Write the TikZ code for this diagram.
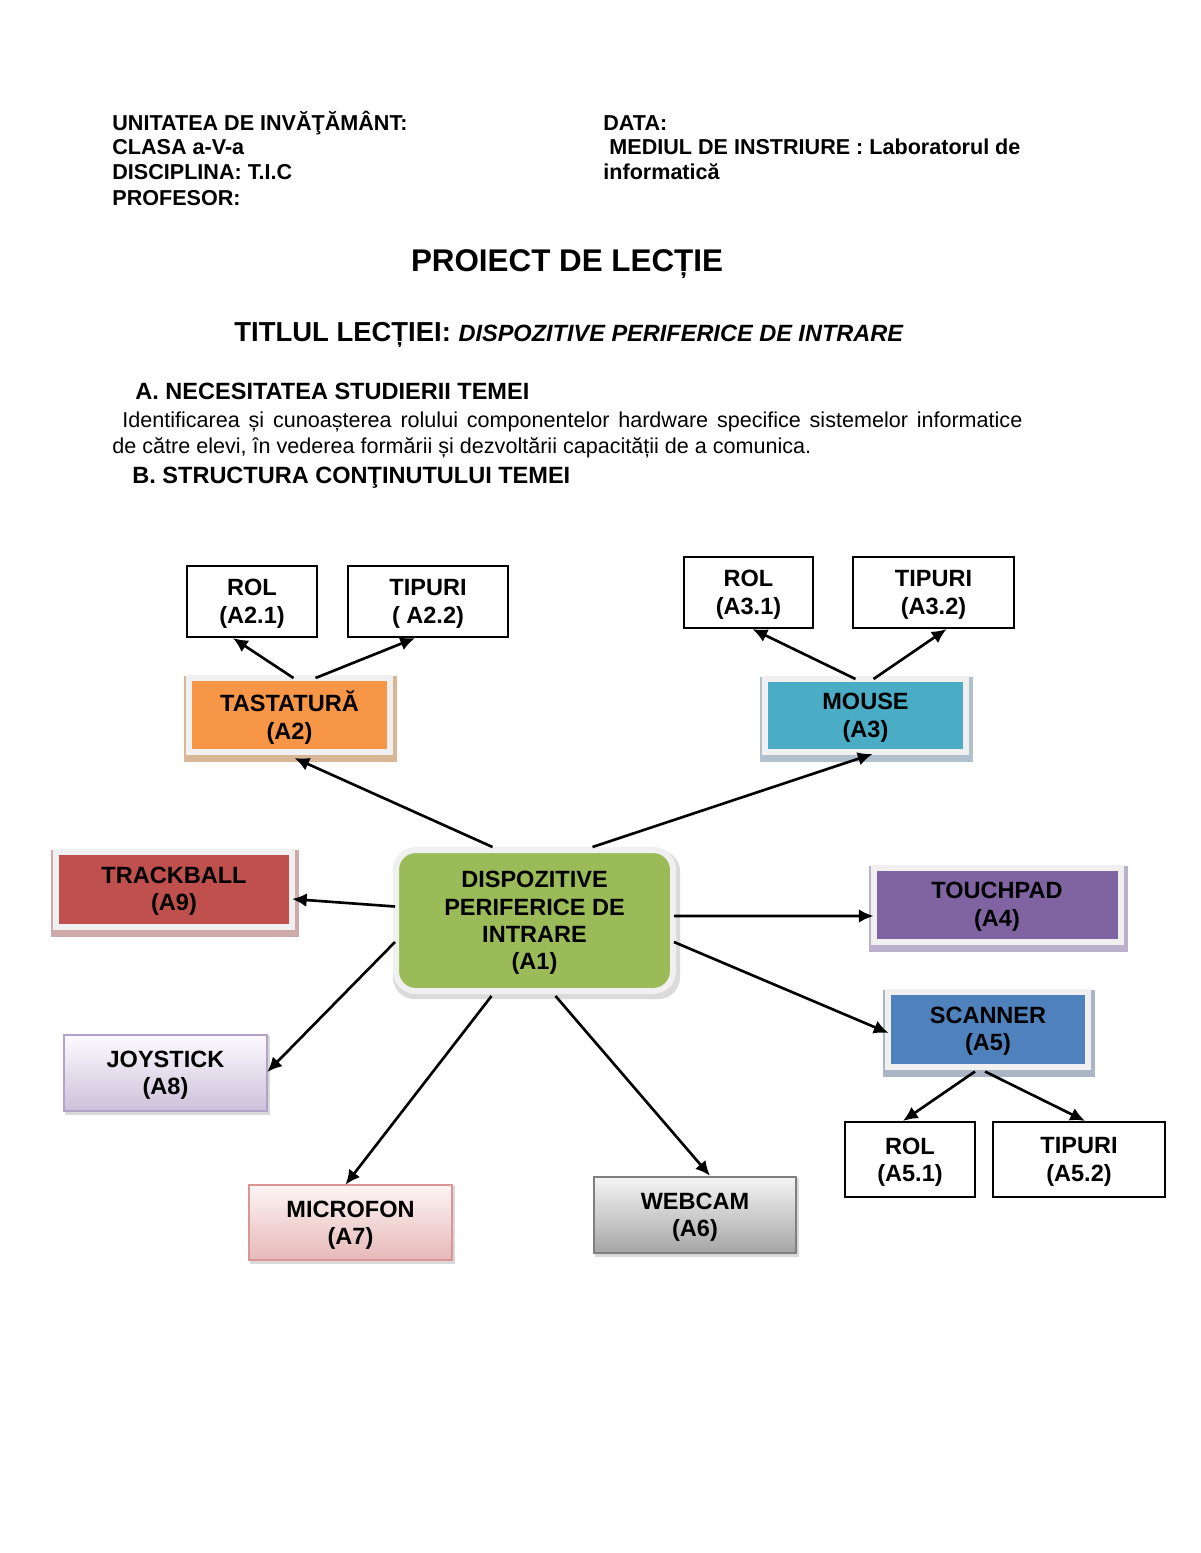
\documentclass[tikz,border=0pt]{standalone}
\usepackage{fontspec}
\setmainfont{Liberation Sans}
\usetikzlibrary{calc,arrows.meta,backgrounds}
\definecolor{frm}{HTML}{F0F0F0}
\definecolor{corange}{HTML}{F79646}
\definecolor{caqua}{HTML}{4BACC6}
\definecolor{cgreen}{HTML}{9BBB59}
\definecolor{cred}{HTML}{C0504D}
\definecolor{cpurple}{HTML}{8064A2}
\definecolor{cscan}{HTML}{4F81BD}
\definecolor{shorange}{HTML}{D8B696}
\definecolor{shaqua}{HTML}{B0C0CC}
\definecolor{shred}{HTML}{CFAAAA}
\definecolor{shpurple}{HTML}{BAB0CC}
\definecolor{shscan}{HTML}{AAB5C5}
\definecolor{shgreen}{HTML}{DADADA}
\definecolor{jtop}{HTML}{FCFAFE}
\definecolor{jbot}{HTML}{CCC1DA}
\definecolor{jbrd}{HTML}{B3A2C7}
\definecolor{mtop}{HTML}{FDF4F4}
\definecolor{mbot}{HTML}{E6B9B8}
\definecolor{mbrd}{HTML}{D99694}
\definecolor{wtop}{HTML}{F4F4F4}
\definecolor{wbot}{HTML}{A6A6A6}
\definecolor{wbrd}{HTML}{7F7F7F}
\newcommand\boxshadow[4]{\fill[#2] ($(#1.south west)+(-3+#3,3+#4)$) rectangle ($(#1.north east)+(3+#3,-3+#4)$);}
\begin{document}
\begin{tikzpicture}[x=0.51pt,y=-0.51pt,
  sz/.style 2 args={minimum width=#1*0.51pt, minimum height=#2*0.51pt},
  lbl/.style={font=\bfseries\fontsize{12}{14}\selectfont, align=center, inner sep=0pt, text=black, text depth=0pt},
  cbox/.style={lbl, draw=frm, line width=3.06pt},
  wbox/.style={lbl, draw=black, fill=white, line width=1.1pt},
  gbox/.style={lbl, line width=1.3pt},
  hdr/.style={font=\bfseries\fontsize{11}{13}\selectfont, inner sep=0pt, anchor=base west},
  body/.style={font=\fontsize{11}{13}\selectfont, inner sep=0pt, anchor=base west},
  arr/.style={-{Latex[length=7.5pt,width=7pt]}, line width=1.35pt, black}]
\useasboundingbox (0,0) rectangle (1200,1553);
% header
\node[hdr] (h1) at (112,131) {UNITATEA DE INVĂŢĂMÂNT:};
\node[hdr] (h2) at (112,155) {CLASA a-V-a};
\node[hdr] (h3) at (112,180) {DISCIPLINA: T.I.C};
\node[hdr] (h4) at (112,205) {PROFESOR:};
\node[hdr] (h5) at (603,131) {DATA:};
\node[hdr] (h6) at (609,155) {MEDIUL DE INSTRIURE : Laboratorul de};
\node[hdr] (h7) at (603,180) {informatică};
\node[font=\bfseries\fontsize{16}{18}\selectfont, inner sep=0pt, anchor=base] (title) at (567,271) {PROIECT DE LECȚIE};
\node[inner sep=0pt, anchor=base west, font=\bfseries] (sub) at (234,341) {{\fontsize{14}{16}\selectfont TITLUL LECȚIEI: }{\fontsize{12}{14}\selectfont\itshape DISPOZITIVE PERIFERICE DE INTRARE}};
\node[hdr, font=\bfseries\fontsize{12}{14}\selectfont] (secA) at (135,399) {A. NECESITATEA STUDIERII TEMEI};
\node[body] (p1) at (122,427) {\makebox[459pt][s]{Identificarea și cunoașterea rolului componentelor hardware specifice sistemelor informatice}};
\node[body] (p2) at (112,453) {de către elevi, în vederea formării și dezvoltării capacității de a comunica.};
\node[hdr, font=\bfseries\fontsize{12}{14}\selectfont] (secB) at (132,483) {B. STRUCTURA CONŢINUTULUI TEMEI};
% diagram nodes
\node[wbox, sz={130}{71}] (a21) at (252,601.5) {ROL\\(A2.1)};
\node[wbox, sz={160}{71}] (a22) at (428,601.5) {TIPURI\\( A2.2)};
\node[cbox, fill=corange, sz={201}{74}] (a2) at (289.5,715) {TASTATURĂ\\(A2)};
\node[wbox, sz={129}{71}] (a31) at (748.5,592.5) {ROL\\(A3.1)};
\node[wbox, sz={161}{71}] (a32) at (933.5,592.5) {TIPURI\\(A3.2)};
\node[cbox, fill=caqua, sz={201}{73}] (a3) at (865.5,715.5) {MOUSE\\(A3)};
\node[cbox, fill=cgreen, rounded corners=10pt, sz={277}{141}] (a1) at (534.5,920.5) {DISPOZITIVE\\PERIFERICE DE\\INTRARE\\(A1)};
\node[cbox, fill=cred, sz={236}{75}] (a9) at (174,889) {TRACKBALL\\(A9)};
\node[cbox, fill=cpurple, sz={247}{74}] (a4) at (997,904.5) {TOUCHPAD\\(A4)};
\node[cbox, fill=cscan, sz={200}{75}] (a5) at (988,1029) {SCANNER\\(A5)};
\node[wbox, sz={130}{75}] (a51) at (910,1159.5) {ROL\\(A5.1)};
\node[wbox, sz={172}{75}] (a52) at (1079,1159.5) {TIPURI\\(A5.2)};
\node[gbox, draw=jbrd, top color=jtop, bottom color=jbot, sz={203}{76}] (a8) at (165.5,1073) {JOYSTICK\\(A8)};
\node[gbox, draw=mbrd, top color=mtop, bottom color=mbot, sz={203}{75}] (a7) at (350.5,1222.5) {MICROFON\\(A7)};
\node[gbox, draw=wbrd, top color=wtop, bottom color=wbot, sz={202}{76}] (a6) at (695,1215) {WEBCAM\\(A6)};
% shadows
\begin{scope}[on background layer]
\fill[white] (0,0) rectangle (1200,1553);
\boxshadow{a2}{shorange}{1}{4}
\boxshadow{a3}{shaqua}{1}{4}
\boxshadow{a9}{shred}{1}{4}
\boxshadow{a4}{shpurple}{1}{4}
\boxshadow{a5}{shscan}{1}{4}
\fill[shgreen, rounded corners=11pt] ($(a1.south west)+(0,5)$) rectangle ($(a1.north east)+(4,3)$);
\fill[gray!30] ($(a8.south west)+(2,3)$) rectangle ($(a8.north east)+(2,2)$);
\fill[gray!30] ($(a7.south west)+(2,3)$) rectangle ($(a7.north east)+(2,2)$);
\fill[gray!30] ($(a6.south west)+(2,3)$) rectangle ($(a6.north east)+(2,2)$);
\end{scope}
% connectors
\draw[arr] ($(a2.north)+(4,3)$) -- ($(a21.south)+(-19,0)$);
\draw[arr] ($(a2.north)+(26,3)$) -- ($(a22.south)+(-13,0)$);
\draw[arr] ($(a3.north)+(-10,3)$) -- ($(a31.south)+(4,0)$);
\draw[arr] ($(a3.north)+(8,3)$) -- ($(a32.south)+(13,0)$);
\draw[arr] ($(a1.north)+(-42,0)$) -- ($(a2.south)+(5,3)$);
\draw[arr] ($(a1.north)+(58,0)$) -- ($(a3.south)+(7,-1)$);
\draw[arr] ($(a1.west)+(2,-14)$) -- ($(a9.east)+(-3,10)$);
\draw[arr] ($(a1.east)+(-2,-4.5)$) -- ($(a4.west)+(3,11.5)$);
\draw[arr] ($(a1.east)+(-2,21.5)$) -- ($(a5.west)+(3.5,4)$);
\draw[arr] ($(a1.west)+(2,21.5)$) -- ($(a8.east)+(-1,-1)$);
\draw[arr] ($(a1.south)+(-43,2)$) -- ($(a7.north)+(-5,1)$);
\draw[arr] ($(a1.south)+(21,2)$) -- ($(a6.north)+(15,0)$);
\draw[arr] ($(a5.south)+(-13,2)$) -- ($(a51.north)+(-7,0)$);
\draw[arr] ($(a5.south)+(-3,2)$) -- ($(a52.north)+(6,0)$);
\end{tikzpicture}
\end{document}
